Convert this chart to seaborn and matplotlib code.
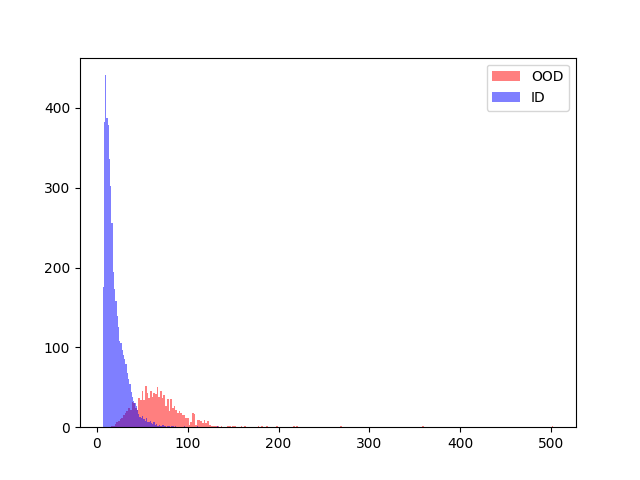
import numpy as np
import pandas as pd
import seaborn as sns
import matplotlib
matplotlib.use("Agg")
import matplotlib.pyplot as plt


###
### HISTOGRAM COUNTS
###

# ID scores: first bin edge, bin width, counts per bin
id_start = 6.3
id_width = 1.4
id_counts = [176, 382, 441, 388, 378, 336, 302, 256, 194, 173, 158, 139, 125,
             108, 106, 97, 91, 85, 79, 68, 60, 54, 44, 38, 33,
             30, 26, 22, 17, 13, 12, 14, 10, 8, 11, 7, 6, 8, 5, 4, 6, 3, 4,
             2, 3, 2, 1, 3, 1, 2, 0, 1, 2, 0, 1, 1, 0, 1]
# isolated ID bars further right (value, count)
id_tail_values = [96.0, 110.0, 133.0]
id_tail_counts = [1, 1, 2]

# OOD scores: first bin edge, bin width, counts per bin
ood_start = 16.0
ood_width = 1.85
ood_counts = [1, 2, 4, 6, 8, 10, 12, 15, 18, 20, 24, 22, 32, 30, 24, 22,
              36, 34, 45, 34, 52, 43, 36, 45, 38, 43, 41, 50, 38, 45, 36, 40,
              26, 35, 20, 35, 24, 27, 22, 18, 20, 18, 15, 15, 12, 11, 3, 7,
              18, 16, 3, 9, 9, 8, 5, 9, 5, 8, 3, 2, 2, 1, 2, 1, 0, 1]
# isolated OOD bars in the long tail (value, count)
ood_tail_values = [144.9, 146.7, 150.4, 152.3, 159.7, 163.4, 178.2, 181.9,
                   187.4, 198.5, 217.0, 220.7, 268.8, 359.5, 502.0]
ood_tail_counts = [1, 1, 1, 1, 1, 1, 1, 1, 1, 1, 1, 1, 1, 1, 1]


###
### SHAPE THE DATA
###

def build_frame(start, width, counts, tail_values, tail_counts):
    centers = start + width * (np.arange(len(counts)) + 0.5)
    df = pd.DataFrame({'score': np.concatenate([centers, tail_values]),
                       'count': np.concatenate([counts, tail_counts])})
    return df

id_df = build_frame(id_start, id_width, id_counts, id_tail_values, id_tail_counts)
ood_df = build_frame(ood_start, ood_width, ood_counts, ood_tail_values, ood_tail_counts)

# number of bins covering each series' full range
id_nbins = int(np.ceil((id_df['score'].max() - id_start) / id_width))
ood_nbins = int(np.ceil((ood_df['score'].max() - ood_start) / ood_width))


###
### PLOT
###

fig, ax = plt.subplots(figsize=(6.4, 4.8), dpi=100)

sns.histplot(data=ood_df, x='score', weights='count', binwidth=ood_width,
             binrange=(ood_start, ood_start + ood_width * ood_nbins),
             color='r', alpha=0.5, linewidth=0, edgecolor='none',
             label='OOD', ax=ax)
sns.histplot(data=id_df, x='score', weights='count', binwidth=id_width,
             binrange=(id_start, id_start + id_width * id_nbins),
             color='b', alpha=0.5, linewidth=0, edgecolor='none',
             label='ID', ax=ax)

ax.set_xlabel('')
ax.set_ylabel('')
ax.set_xticks([0, 100, 200, 300, 400, 500])
ax.set_yticks([0, 100, 200, 300, 400])
ax.legend(loc='upper right')

plt.savefig('out.png', dpi=100)
